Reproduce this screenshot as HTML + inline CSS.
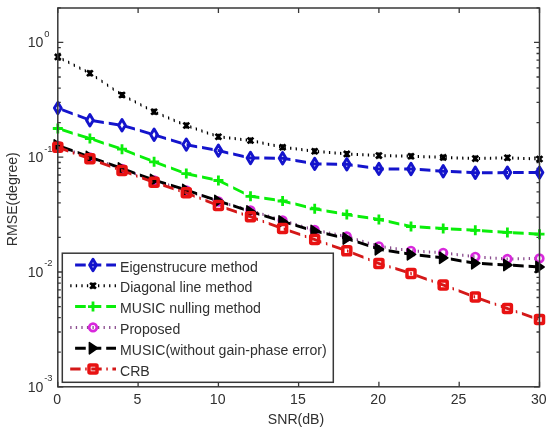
<!DOCTYPE html><html><head><meta charset="utf-8"><style>html,body{margin:0;padding:0;background:#fff;}svg{display:block;}text{font-family:"Liberation Sans",Arial,sans-serif;fill:#303030;}</style></head><body>
<svg width="550" height="436" viewBox="0 0 550 436">
<rect width="550" height="436" fill="#fff"/>
<path d="M57.8,386.8V381.8M57.8,8.0V13.0M138.1,386.8V381.8M138.1,8.0V13.0M218.4,386.8V381.8M218.4,8.0V13.0M298.6,386.8V381.8M298.6,8.0V13.0M378.9,386.8V381.8M378.9,8.0V13.0M459.2,386.8V381.8M459.2,8.0V13.0M539.5,386.8V381.8M539.5,8.0V13.0M57.8,386.8H63.3M539.5,386.8H534.0M57.8,352.2H60.8M539.5,352.2H536.5M57.8,332.0H60.8M539.5,332.0H536.5M57.8,317.7H60.8M539.5,317.7H536.5M57.8,306.6H60.8M539.5,306.6H536.5M57.8,297.5H60.8M539.5,297.5H536.5M57.8,289.8H60.8M539.5,289.8H536.5M57.8,283.1H60.8M539.5,283.1H536.5M57.8,277.3H60.8M539.5,277.3H536.5M57.8,272.0H63.3M539.5,272.0H534.0M57.8,237.4H60.8M539.5,237.4H536.5M57.8,217.2H60.8M539.5,217.2H536.5M57.8,202.9H60.8M539.5,202.9H536.5M57.8,191.8H60.8M539.5,191.8H536.5M57.8,182.7H60.8M539.5,182.7H536.5M57.8,175.0H60.8M539.5,175.0H536.5M57.8,168.3H60.8M539.5,168.3H536.5M57.8,162.5H60.8M539.5,162.5H536.5M57.8,157.2H63.3M539.5,157.2H534.0M57.8,122.6H60.8M539.5,122.6H536.5M57.8,102.4H60.8M539.5,102.4H536.5M57.8,88.1H60.8M539.5,88.1H536.5M57.8,77.0H60.8M539.5,77.0H536.5M57.8,67.9H60.8M539.5,67.9H536.5M57.8,60.2H60.8M539.5,60.2H536.5M57.8,53.5H60.8M539.5,53.5H536.5M57.8,47.7H60.8M539.5,47.7H536.5M57.8,42.4H63.3M539.5,42.4H534.0M57.8,7.8H60.8M539.5,7.8H536.5" stroke="#383838" stroke-width="1.3" fill="none"/>
<path d="M62.10,108.22L72.75,112.23L72.75,115.23L62.10,111.22ZM77.65,114.08L88.30,118.09L88.30,121.09L77.65,117.08ZM93.20,119.22L103.85,120.91L103.85,123.91L93.20,122.22ZM108.75,121.69L119.40,123.38L119.40,126.38L108.75,124.69ZM124.30,124.47L134.95,127.62L134.95,130.62L124.30,127.47ZM139.85,129.07L150.50,132.22L150.50,135.22L139.85,132.07ZM155.40,133.68L166.05,136.93L166.05,139.93L155.40,136.68ZM170.95,138.43L181.60,141.68L181.60,144.68L170.95,141.43ZM186.50,143.15L197.15,145.14L197.15,148.14L186.50,146.15ZM202.05,146.05L212.70,148.04L212.70,151.04L202.05,149.05ZM217.60,148.96L218.37,149.10L228.25,151.38L228.25,154.38L218.37,152.10L217.60,151.96ZM233.15,152.51L243.80,154.96L243.80,157.96L233.15,155.51ZM248.70,156.09L250.48,156.50L259.35,156.56L259.35,159.56L250.48,159.50L248.70,159.09ZM264.25,156.59L274.90,156.65L274.90,159.65L264.25,159.59ZM279.80,156.68L282.59,156.70L290.45,158.09L290.45,161.09L282.59,159.70L279.80,159.68ZM295.35,158.96L306.00,160.85L306.00,163.85L295.35,161.96ZM310.90,161.72L314.71,162.40L321.55,162.49L321.55,165.49L314.71,165.40L310.90,164.72ZM326.45,162.55L337.10,162.68L337.10,165.68L326.45,165.55ZM342.00,162.74L346.82,162.80L352.65,163.64L352.65,166.64L346.82,165.80L342.00,165.74ZM357.55,164.34L368.20,165.86L368.20,168.86L357.55,167.34ZM373.10,166.56L378.93,167.40L383.75,167.41L383.75,170.41L378.93,170.40L373.10,169.56ZM388.65,167.43L399.30,167.46L399.30,170.46L388.65,170.43ZM404.20,167.48L411.05,167.50L414.85,167.76L414.85,170.76L411.05,170.50L404.20,170.48ZM419.75,168.10L430.40,168.83L430.40,171.83L419.75,171.10ZM435.30,169.16L443.16,169.70L445.95,169.84L445.95,172.84L443.16,172.70L435.30,172.16ZM450.85,170.08L461.50,170.61L461.50,173.61L450.85,173.08ZM466.40,170.86L475.27,171.30L477.05,171.29L477.05,174.29L475.27,174.30L466.40,173.86ZM481.95,171.26L492.60,171.19L492.60,174.19L481.95,174.26ZM497.50,171.16L507.39,171.10L508.15,171.10L508.15,174.10L507.39,174.10L497.50,174.16ZM513.05,171.10L523.70,171.10L523.70,174.10L513.05,174.10ZM528.60,171.10L539.25,171.10L539.25,174.10L528.60,174.10Z" fill="#1414cc"/>
<path d="M57.8,102.4 L61.2,108.1 L57.8,113.8 L54.4,108.1Z" fill="none" stroke="#1414cc" stroke-width="2.9" stroke-linejoin="round"/>
<path d="M89.9,114.5 L93.3,120.2 L89.9,125.9 L86.5,120.2Z" fill="none" stroke="#1414cc" stroke-width="2.9" stroke-linejoin="round"/>
<path d="M122.0,119.6 L125.4,125.3 L122.0,131.0 L118.6,125.3Z" fill="none" stroke="#1414cc" stroke-width="2.9" stroke-linejoin="round"/>
<path d="M154.1,129.1 L157.5,134.8 L154.1,140.5 L150.7,134.8Z" fill="none" stroke="#1414cc" stroke-width="2.9" stroke-linejoin="round"/>
<path d="M186.3,138.9 L189.7,144.6 L186.3,150.3 L182.9,144.6Z" fill="none" stroke="#1414cc" stroke-width="2.9" stroke-linejoin="round"/>
<path d="M218.4,144.9 L221.8,150.6 L218.4,156.3 L215.0,150.6Z" fill="none" stroke="#1414cc" stroke-width="2.9" stroke-linejoin="round"/>
<path d="M250.5,152.3 L253.9,158.0 L250.5,163.7 L247.1,158.0Z" fill="none" stroke="#1414cc" stroke-width="2.9" stroke-linejoin="round"/>
<path d="M282.6,152.5 L286.0,158.2 L282.6,163.9 L279.2,158.2Z" fill="none" stroke="#1414cc" stroke-width="2.9" stroke-linejoin="round"/>
<path d="M314.7,158.2 L318.1,163.9 L314.7,169.6 L311.3,163.9Z" fill="none" stroke="#1414cc" stroke-width="2.9" stroke-linejoin="round"/>
<path d="M346.8,158.6 L350.2,164.3 L346.8,170.0 L343.4,164.3Z" fill="none" stroke="#1414cc" stroke-width="2.9" stroke-linejoin="round"/>
<path d="M378.9,163.2 L382.3,168.9 L378.9,174.6 L375.5,168.9Z" fill="none" stroke="#1414cc" stroke-width="2.9" stroke-linejoin="round"/>
<path d="M411.0,163.3 L414.4,169.0 L411.0,174.7 L407.6,169.0Z" fill="none" stroke="#1414cc" stroke-width="2.9" stroke-linejoin="round"/>
<path d="M443.2,165.5 L446.6,171.2 L443.2,176.9 L439.8,171.2Z" fill="none" stroke="#1414cc" stroke-width="2.9" stroke-linejoin="round"/>
<path d="M475.3,167.1 L478.7,172.8 L475.3,178.5 L471.9,172.8Z" fill="none" stroke="#1414cc" stroke-width="2.9" stroke-linejoin="round"/>
<path d="M507.4,166.9 L510.8,172.6 L507.4,178.3 L504.0,172.6Z" fill="none" stroke="#1414cc" stroke-width="2.9" stroke-linejoin="round"/>
<path d="M539.5,166.9 L542.9,172.6 L539.5,178.3 L536.1,172.6Z" fill="none" stroke="#1414cc" stroke-width="2.9" stroke-linejoin="round"/>
<path d="M57.80,55.40L58.28,55.64L58.28,58.64L57.80,58.40ZM62.53,57.80L63.83,58.46L63.83,61.46L62.53,60.80ZM68.08,60.62L69.38,61.28L69.38,64.28L68.08,63.62ZM73.63,63.43L74.93,64.09L74.93,67.09L73.63,66.43ZM79.18,66.25L80.48,66.91L80.48,69.91L79.18,69.25ZM84.73,69.07L86.03,69.73L86.03,72.73L84.73,72.07ZM90.28,71.95L91.58,72.83L91.58,75.83L90.28,74.95ZM95.83,75.72L97.13,76.60L97.13,79.60L95.83,78.72ZM101.38,79.48L102.68,80.37L102.68,83.37L101.38,82.48ZM106.93,83.25L108.23,84.13L108.23,87.13L106.93,86.25ZM112.48,87.02L113.78,87.90L113.78,90.90L112.48,90.02ZM118.03,90.79L119.33,91.67L119.33,94.67L118.03,93.79ZM123.58,94.31L124.88,94.99L124.88,97.99L123.58,97.31ZM129.13,97.22L130.43,97.90L130.43,100.90L129.13,100.22ZM134.68,100.12L135.98,100.80L135.98,103.80L134.68,103.12ZM140.23,103.02L141.53,103.70L141.53,106.70L140.23,106.02ZM145.78,105.93L147.08,106.61L147.08,109.61L145.78,108.93ZM151.33,108.83L152.63,109.51L152.63,112.51L151.33,111.83ZM156.88,111.47L158.18,112.02L158.18,115.02L156.88,114.47ZM162.43,113.84L163.73,114.39L163.73,117.39L162.43,116.84ZM167.98,116.20L169.28,116.76L169.28,119.76L167.98,119.20ZM173.53,118.57L174.83,119.13L174.83,122.13L173.53,121.57ZM179.08,120.94L180.38,121.49L180.38,124.49L179.08,123.94ZM184.63,123.31L185.93,123.86L185.93,126.86L184.63,126.31ZM190.18,125.37L191.48,125.82L191.48,128.82L190.18,128.37ZM195.73,127.31L197.03,127.76L197.03,130.76L195.73,130.31ZM201.28,129.24L202.58,129.69L202.58,132.69L201.28,132.24ZM206.83,131.18L208.13,131.63L208.13,134.63L206.83,134.18ZM212.38,133.11L213.68,133.57L213.68,136.57L212.38,136.11ZM217.93,135.05L218.37,135.20L219.23,135.30L219.23,138.30L218.37,138.20L217.93,138.05ZM223.48,135.81L224.78,135.96L224.78,138.96L223.48,138.81ZM229.03,136.46L230.33,136.62L230.33,139.62L229.03,139.46ZM234.58,137.12L235.88,137.27L235.88,140.27L234.58,140.12ZM240.13,137.78L241.43,137.93L241.43,140.93L240.13,140.78ZM245.68,138.43L246.98,138.59L246.98,141.59L245.68,141.43ZM251.23,139.16L252.53,139.43L252.53,142.43L251.23,142.16ZM256.78,140.31L258.08,140.59L258.08,143.59L256.78,143.31ZM262.33,141.47L263.63,141.74L263.63,144.74L262.33,144.47ZM267.88,142.63L269.18,142.90L269.18,145.90L267.88,145.63ZM273.43,143.79L274.73,144.06L274.73,147.06L273.43,146.79ZM278.98,144.95L280.28,145.22L280.28,148.22L278.98,147.95ZM284.53,145.95L285.83,146.11L285.83,149.11L284.53,148.95ZM290.08,146.66L291.38,146.82L291.38,149.82L290.08,149.66ZM295.63,147.36L296.93,147.53L296.93,150.53L295.63,150.36ZM301.18,148.07L302.48,148.24L302.48,151.24L301.18,151.07ZM306.73,148.78L308.03,148.95L308.03,151.95L306.73,151.78ZM312.28,149.49L313.58,149.66L313.58,152.66L312.28,152.49ZM317.83,150.05L319.13,150.16L319.13,153.16L317.83,153.05ZM323.38,150.50L324.68,150.61L324.68,153.61L323.38,153.50ZM328.93,150.95L330.23,151.06L330.23,154.06L328.93,153.95ZM334.48,151.40L335.78,151.51L335.78,154.51L334.48,154.40ZM340.03,151.85L341.33,151.96L341.33,154.96L340.03,154.85ZM345.58,152.30L346.82,152.40L346.88,152.40L346.88,155.40L346.82,155.40L345.58,155.30ZM351.13,152.63L352.43,152.70L352.43,155.70L351.13,155.63ZM356.68,152.92L357.98,152.99L357.98,155.99L356.68,155.92ZM362.23,153.22L363.53,153.28L363.53,156.28L362.23,156.22ZM367.78,153.51L369.08,153.58L369.08,156.58L367.78,156.51ZM373.33,153.80L374.63,153.87L374.63,156.87L373.33,156.80ZM378.88,154.10L378.93,154.10L380.18,154.12L380.18,157.12L378.93,157.10L378.88,157.10ZM384.43,154.20L385.73,154.23L385.73,157.23L384.43,157.20ZM389.98,154.31L391.28,154.33L391.28,157.33L389.98,157.31ZM395.53,154.41L396.83,154.43L396.83,157.43L395.53,157.41ZM401.08,154.51L402.38,154.54L402.38,157.54L401.08,157.51ZM406.63,154.62L407.93,154.64L407.93,157.64L406.63,157.62ZM412.18,154.74L413.48,154.79L413.48,157.79L412.18,157.74ZM417.73,154.95L419.03,155.00L419.03,158.00L417.73,157.95ZM423.28,155.16L424.58,155.21L424.58,158.21L423.28,158.16ZM428.83,155.36L430.13,155.41L430.13,158.41L428.83,158.36ZM434.38,155.57L435.68,155.62L435.68,158.62L434.38,158.57ZM439.93,155.78L441.23,155.83L441.23,158.83L439.93,158.78ZM445.48,155.99L446.78,156.04L446.78,159.04L445.48,158.99ZM451.03,156.19L452.33,156.24L452.33,159.24L451.03,159.19ZM456.58,156.40L457.88,156.45L457.88,159.45L456.58,159.40ZM462.13,156.61L463.43,156.66L463.43,159.66L462.13,159.61ZM467.68,156.82L468.98,156.86L468.98,159.86L467.68,159.82ZM473.23,157.02L474.53,157.07L474.53,160.07L473.23,160.02ZM478.78,157.01L480.08,156.98L480.08,159.98L478.78,160.01ZM484.33,156.87L485.63,156.84L485.63,159.84L484.33,159.87ZM489.88,156.74L491.18,156.70L491.18,159.70L489.88,159.74ZM495.43,156.60L496.73,156.57L496.73,159.57L495.43,159.60ZM500.98,156.46L502.28,156.43L502.28,159.43L500.98,159.46ZM506.53,156.32L507.39,156.30L507.83,156.32L507.83,159.32L507.39,159.30L506.53,159.32ZM512.08,156.48L513.38,156.52L513.38,159.52L512.08,159.48ZM517.63,156.68L518.93,156.73L518.93,159.73L517.63,159.68ZM523.18,156.89L524.48,156.94L524.48,159.94L523.18,159.89ZM528.73,157.10L530.03,157.15L530.03,160.15L528.73,160.10ZM534.28,157.30L535.58,157.35L535.58,160.35L534.28,160.30Z" fill="#000"/>
<path d="M54.9,54.0L60.7,59.8M54.9,59.8L60.7,54.0M57.8,53.9V59.9" stroke="#000" stroke-width="2.6" fill="none"/>
<path d="M87.0,70.3L92.8,76.1M87.0,76.1L92.8,70.3M89.9,70.2V76.2" stroke="#000" stroke-width="2.6" fill="none"/>
<path d="M119.1,92.1L124.9,97.9M119.1,97.9L124.9,92.1M122.0,92.0V98.0" stroke="#000" stroke-width="2.6" fill="none"/>
<path d="M151.2,108.9L157.0,114.7M151.2,114.7L157.0,108.9M154.1,108.8V114.8" stroke="#000" stroke-width="2.6" fill="none"/>
<path d="M183.4,122.6L189.2,128.4M183.4,128.4L189.2,122.6M186.3,122.5V128.5" stroke="#000" stroke-width="2.6" fill="none"/>
<path d="M215.5,133.8L221.3,139.6M215.5,139.6L221.3,133.8M218.4,133.7V139.7" stroke="#000" stroke-width="2.6" fill="none"/>
<path d="M247.6,137.6L253.4,143.4M247.6,143.4L253.4,137.6M250.5,137.5V143.5" stroke="#000" stroke-width="2.6" fill="none"/>
<path d="M279.7,144.3L285.5,150.1M279.7,150.1L285.5,144.3M282.6,144.2V150.2" stroke="#000" stroke-width="2.6" fill="none"/>
<path d="M311.8,148.4L317.6,154.2M311.8,154.2L317.6,148.4M314.7,148.3V154.3" stroke="#000" stroke-width="2.6" fill="none"/>
<path d="M343.9,151.0L349.7,156.8M343.9,156.8L349.7,151.0M346.8,150.9V156.9" stroke="#000" stroke-width="2.6" fill="none"/>
<path d="M376.0,152.7L381.8,158.5M376.0,158.5L381.8,152.7M378.9,152.6V158.6" stroke="#000" stroke-width="2.6" fill="none"/>
<path d="M408.1,153.3L413.9,159.1M408.1,159.1L413.9,153.3M411.0,153.2V159.2" stroke="#000" stroke-width="2.6" fill="none"/>
<path d="M440.3,154.5L446.1,160.3M440.3,160.3L446.1,154.5M443.2,154.4V160.4" stroke="#000" stroke-width="2.6" fill="none"/>
<path d="M472.4,155.7L478.2,161.5M472.4,161.5L478.2,155.7M475.3,155.6V161.6" stroke="#000" stroke-width="2.6" fill="none"/>
<path d="M504.5,154.9L510.3,160.7M504.5,160.7L510.3,154.9M507.4,154.8V160.8" stroke="#000" stroke-width="2.6" fill="none"/>
<path d="M536.6,156.1L542.4,161.9M536.6,161.9L542.4,156.1M539.5,156.0V162.0" stroke="#000" stroke-width="2.6" fill="none"/>
<path d="M62.10,128.34L72.75,131.66L72.75,134.66L62.10,131.34ZM77.65,133.18L88.30,136.50L88.30,139.50L77.65,136.18ZM93.20,138.10L103.85,141.64L103.85,144.64L93.20,141.10ZM108.75,143.28L119.40,146.82L119.40,149.82L108.75,146.28ZM124.30,148.59L134.95,152.77L134.95,155.77L124.30,151.59ZM139.85,154.69L150.50,158.87L150.50,161.87L139.85,157.69ZM155.40,160.76L166.05,164.68L166.05,167.68L155.40,163.76ZM170.95,166.48L181.60,170.39L181.60,173.39L170.95,169.48ZM186.50,172.15L197.15,174.44L197.15,177.44L186.50,175.15ZM202.05,175.49L212.70,177.78L212.70,180.78L202.05,178.49ZM217.60,178.84L218.37,179.00L228.25,183.86L228.25,186.86L218.37,182.00L217.60,181.84ZM233.15,186.27L243.80,191.51L243.80,194.51L233.15,189.27ZM248.70,193.92L250.48,194.80L259.35,196.10L259.35,199.10L250.48,197.80L248.70,196.92ZM264.25,196.82L274.90,198.37L274.90,201.37L264.25,199.82ZM279.80,199.09L282.59,199.50L290.45,201.41L290.45,204.41L282.59,202.50L279.80,202.09ZM295.35,202.60L306.00,205.19L306.00,208.19L295.35,205.60ZM310.90,206.38L314.71,207.30L321.55,208.51L321.55,211.51L314.71,210.30L310.90,209.38ZM326.45,209.38L337.10,211.27L337.10,214.27L326.45,212.38ZM342.00,212.14L346.82,213.00L352.65,213.91L352.65,216.91L346.82,216.00L342.00,215.14ZM357.55,214.67L368.20,216.33L368.20,219.33L357.55,217.67ZM373.10,217.09L378.93,218.00L383.75,219.05L383.75,222.05L378.93,221.00L373.10,220.09ZM388.65,220.12L399.30,222.44L399.30,225.44L388.65,223.12ZM404.20,223.51L411.05,225.00L414.85,225.24L414.85,228.24L411.05,228.00L404.20,226.51ZM419.75,225.54L430.40,226.21L430.40,229.21L419.75,228.54ZM435.30,226.51L443.16,227.00L445.95,227.16L445.95,230.16L443.16,230.00L435.30,229.51ZM450.85,227.43L461.50,228.03L461.50,231.03L450.85,230.43ZM466.40,228.30L475.27,228.80L477.05,228.92L477.05,231.92L475.27,231.80L466.40,231.30ZM481.95,229.24L492.60,229.93L492.60,232.93L481.95,232.24ZM497.50,230.25L507.39,230.90L508.15,230.94L508.15,233.94L507.39,233.90L497.50,233.25ZM513.05,231.22L523.70,231.81L523.70,234.81L513.05,234.22ZM528.60,232.09L539.25,232.69L539.25,235.69L528.60,235.09Z" fill="#0aee0a"/>
<path d="M57.8,123.5V133.5M52.8,128.5H62.8" stroke="#0aee0a" stroke-width="2.8" fill="none"/>
<path d="M89.9,133.5V143.5M84.9,138.5H94.9" stroke="#0aee0a" stroke-width="2.8" fill="none"/>
<path d="M122.0,144.2V154.2M117.0,149.2H127.0" stroke="#0aee0a" stroke-width="2.8" fill="none"/>
<path d="M154.1,156.8V166.8M149.1,161.8H159.1" stroke="#0aee0a" stroke-width="2.8" fill="none"/>
<path d="M186.3,168.6V178.6M181.3,173.6H191.3" stroke="#0aee0a" stroke-width="2.8" fill="none"/>
<path d="M218.4,175.5V185.5M213.4,180.5H223.4" stroke="#0aee0a" stroke-width="2.8" fill="none"/>
<path d="M250.5,191.3V201.3M245.5,196.3H255.5" stroke="#0aee0a" stroke-width="2.8" fill="none"/>
<path d="M282.6,196.0V206.0M277.6,201.0H287.6" stroke="#0aee0a" stroke-width="2.8" fill="none"/>
<path d="M314.7,203.8V213.8M309.7,208.8H319.7" stroke="#0aee0a" stroke-width="2.8" fill="none"/>
<path d="M346.8,209.5V219.5M341.8,214.5H351.8" stroke="#0aee0a" stroke-width="2.8" fill="none"/>
<path d="M378.9,214.5V224.5M373.9,219.5H383.9" stroke="#0aee0a" stroke-width="2.8" fill="none"/>
<path d="M411.0,221.5V231.5M406.0,226.5H416.0" stroke="#0aee0a" stroke-width="2.8" fill="none"/>
<path d="M443.2,223.5V233.5M438.2,228.5H448.2" stroke="#0aee0a" stroke-width="2.8" fill="none"/>
<path d="M475.3,225.3V235.3M470.3,230.3H480.3" stroke="#0aee0a" stroke-width="2.8" fill="none"/>
<path d="M507.4,227.4V237.4M502.4,232.4H512.4" stroke="#0aee0a" stroke-width="2.8" fill="none"/>
<path d="M539.5,229.2V239.2M534.5,234.2H544.5" stroke="#0aee0a" stroke-width="2.8" fill="none"/>
<path d="M57.80,144.50L58.28,144.67L58.28,147.67L57.80,147.50ZM62.53,146.19L63.83,146.66L63.83,149.66L62.53,149.19ZM68.08,148.18L69.38,148.65L69.38,151.65L68.08,151.18ZM73.63,150.17L74.93,150.63L74.93,153.63L73.63,153.17ZM79.18,152.16L80.48,152.62L80.48,155.62L79.18,155.16ZM84.73,154.14L86.03,154.61L86.03,157.61L84.73,157.14ZM90.28,156.13L91.58,156.60L91.58,159.60L90.28,159.13ZM95.83,158.12L97.13,158.58L97.13,161.58L95.83,161.12ZM101.38,160.11L102.68,160.57L102.68,163.57L101.38,163.11ZM106.93,162.09L108.23,162.56L108.23,165.56L106.93,165.09ZM112.48,164.08L113.78,164.55L113.78,167.55L112.48,167.08ZM118.03,166.07L119.33,166.53L119.33,169.53L118.03,169.07ZM123.58,168.06L124.88,168.52L124.88,171.52L123.58,171.06ZM129.13,170.04L130.43,170.51L130.43,173.51L129.13,173.04ZM134.68,172.03L135.98,172.50L135.98,175.50L134.68,175.03ZM140.23,174.02L141.53,174.48L141.53,177.48L140.23,177.02ZM145.78,176.01L147.08,176.47L147.08,179.47L145.78,179.01ZM151.33,177.99L152.63,178.46L152.63,181.46L151.33,180.99ZM156.88,179.85L158.18,180.26L158.18,183.26L156.88,182.85ZM162.43,181.58L163.73,181.99L163.73,184.99L162.43,184.58ZM167.98,183.31L169.28,183.71L169.28,186.71L167.98,186.31ZM173.53,185.04L174.83,185.44L174.83,188.44L173.53,188.04ZM179.08,186.77L180.38,187.17L180.38,190.17L179.08,189.77ZM184.63,188.49L185.93,188.90L185.93,191.90L184.63,191.49ZM190.18,190.35L191.48,190.79L191.48,193.79L190.18,193.35ZM195.73,192.25L197.03,192.69L197.03,195.69L195.73,195.25ZM201.28,194.15L202.58,194.59L202.58,197.59L201.28,197.15ZM206.83,196.05L208.13,196.49L208.13,199.49L206.83,199.05ZM212.38,197.95L213.68,198.39L213.68,201.39L212.38,200.95ZM217.93,199.85L218.37,200.00L219.23,200.24L219.23,203.24L218.37,203.00L217.93,202.85ZM223.48,201.43L224.78,201.80L224.78,204.80L223.48,204.43ZM229.03,202.99L230.33,203.35L230.33,206.35L229.03,205.99ZM234.58,204.54L235.88,204.91L235.88,207.91L234.58,207.54ZM240.13,206.10L241.43,206.46L241.43,209.46L240.13,209.10ZM245.68,207.65L246.98,208.02L246.98,211.02L245.68,210.65ZM251.23,209.23L252.53,209.64L252.53,212.64L251.23,212.23ZM256.78,210.96L258.08,211.37L258.08,214.37L256.78,213.96ZM262.33,212.69L263.63,213.09L263.63,216.09L262.33,215.69ZM267.88,214.42L269.18,214.82L269.18,217.82L267.88,217.42ZM273.43,216.15L274.73,216.55L274.73,219.55L273.43,219.15ZM278.98,217.87L280.28,218.28L280.28,221.28L278.98,220.87ZM284.53,219.57L285.83,219.96L285.83,222.96L284.53,222.57ZM290.08,221.21L291.38,221.60L291.38,224.60L290.08,224.21ZM295.63,222.86L296.93,223.24L296.93,226.24L295.63,225.86ZM301.18,224.50L302.48,224.88L302.48,227.88L301.18,227.50ZM306.73,226.14L308.03,226.52L308.03,229.52L306.73,229.14ZM312.28,227.78L313.58,228.17L313.58,231.17L312.28,230.78ZM317.83,229.13L319.13,229.40L319.13,232.40L317.83,232.13ZM323.38,230.26L324.68,230.52L324.68,233.52L323.38,233.26ZM328.93,231.38L330.23,231.64L330.23,234.64L328.93,234.38ZM334.48,232.50L335.78,232.77L335.78,235.77L334.48,235.50ZM340.03,233.63L341.33,233.89L341.33,236.89L340.03,236.63ZM345.58,234.75L346.82,235.00L346.88,235.02L346.88,238.02L346.82,238.00L345.58,237.75ZM351.13,236.32L352.43,236.71L352.43,239.71L351.13,239.32ZM356.68,238.01L357.98,238.41L357.98,241.41L356.68,241.01ZM362.23,239.70L363.53,240.10L363.53,243.10L362.23,242.70ZM367.78,241.40L369.08,241.79L369.08,244.79L367.78,244.40ZM373.33,243.09L374.63,243.49L374.63,246.49L373.33,246.09ZM378.88,244.78L378.93,244.80L380.18,244.97L380.18,247.97L378.93,247.80L378.88,247.78ZM384.43,245.57L385.73,245.75L385.73,248.75L384.43,248.57ZM389.98,246.35L391.28,246.53L391.28,249.53L389.98,249.35ZM395.53,247.13L396.83,247.31L396.83,250.31L395.53,250.13ZM401.08,247.90L402.38,248.09L402.38,251.09L401.08,250.90ZM406.63,248.68L407.93,248.86L407.93,251.86L406.63,251.68ZM412.18,249.37L413.48,249.45L413.48,252.45L412.18,252.37ZM417.73,249.72L419.03,249.80L419.03,252.80L417.73,252.72ZM423.28,250.06L424.58,250.14L424.58,253.14L423.28,253.06ZM428.83,250.41L430.13,250.49L430.13,253.49L428.83,253.41ZM434.38,250.75L435.68,250.83L435.68,253.83L434.38,253.75ZM439.93,251.10L441.23,251.18L441.23,254.18L439.93,254.10ZM445.48,251.59L446.78,251.75L446.78,254.75L445.48,254.59ZM451.03,252.28L452.33,252.44L452.33,255.44L451.03,255.28ZM456.58,252.97L457.88,253.13L457.88,256.13L456.58,255.97ZM462.13,253.66L463.43,253.82L463.43,256.82L462.13,256.66ZM467.68,254.35L468.98,254.52L468.98,257.52L467.68,257.35ZM473.23,255.05L474.53,255.21L474.53,258.21L473.23,258.05ZM478.78,255.54L480.08,255.63L480.08,258.63L478.78,258.54ZM484.33,255.92L485.63,256.01L485.63,259.01L484.33,258.92ZM489.88,256.30L491.18,256.39L491.18,259.39L489.88,259.30ZM495.43,256.68L496.73,256.77L496.73,259.77L495.43,259.68ZM500.98,257.06L502.28,257.15L502.28,260.15L500.98,260.06ZM506.53,257.44L507.39,257.50L507.83,257.49L507.83,260.49L507.39,260.50L506.53,260.44ZM512.08,257.41L513.38,257.39L513.38,260.39L512.08,260.41ZM517.63,257.31L518.93,257.28L518.93,260.28L517.63,260.31ZM523.18,257.20L524.48,257.18L524.48,260.18L523.18,260.20ZM528.73,257.10L530.03,257.08L530.03,260.08L528.73,260.10ZM534.28,257.00L535.58,256.97L535.58,259.97L534.28,260.00Z" fill="#8a4c8e"/>
<circle cx="57.8" cy="146.0" r="3.8" fill="none" stroke="#d828dc" stroke-width="2.7"/>
<circle cx="89.9" cy="157.5" r="3.8" fill="none" stroke="#d828dc" stroke-width="2.7"/>
<circle cx="122.0" cy="169.0" r="3.8" fill="none" stroke="#d828dc" stroke-width="2.7"/>
<circle cx="154.1" cy="180.5" r="3.8" fill="none" stroke="#d828dc" stroke-width="2.7"/>
<circle cx="186.3" cy="190.5" r="3.8" fill="none" stroke="#d828dc" stroke-width="2.7"/>
<circle cx="218.4" cy="201.5" r="3.8" fill="none" stroke="#d828dc" stroke-width="2.7"/>
<circle cx="250.5" cy="210.5" r="3.8" fill="none" stroke="#d828dc" stroke-width="2.7"/>
<circle cx="282.6" cy="220.5" r="3.8" fill="none" stroke="#d828dc" stroke-width="2.7"/>
<circle cx="314.7" cy="230.0" r="3.8" fill="none" stroke="#d828dc" stroke-width="2.7"/>
<circle cx="346.8" cy="236.5" r="3.8" fill="none" stroke="#d828dc" stroke-width="2.7"/>
<circle cx="378.9" cy="246.3" r="3.8" fill="none" stroke="#d828dc" stroke-width="2.7"/>
<circle cx="411.0" cy="250.8" r="3.8" fill="none" stroke="#d828dc" stroke-width="2.7"/>
<circle cx="443.2" cy="252.8" r="3.8" fill="none" stroke="#d828dc" stroke-width="2.7"/>
<circle cx="475.3" cy="256.8" r="3.8" fill="none" stroke="#d828dc" stroke-width="2.7"/>
<circle cx="507.4" cy="259.0" r="3.8" fill="none" stroke="#d828dc" stroke-width="2.7"/>
<circle cx="539.5" cy="258.4" r="3.8" fill="none" stroke="#d828dc" stroke-width="2.7"/>
<path d="M62.10,145.54L72.75,149.35L72.75,152.35L62.10,148.54ZM77.65,151.11L88.30,154.92L88.30,157.92L77.65,154.11ZM93.20,156.68L103.85,160.49L103.85,163.49L93.20,159.68ZM108.75,162.25L119.40,166.06L119.40,169.06L108.75,165.25ZM124.30,167.81L134.95,171.63L134.95,174.63L124.30,170.81ZM139.85,173.38L150.50,177.20L150.50,180.20L139.85,176.38ZM155.40,178.89L166.05,182.21L166.05,185.21L155.40,181.89ZM170.95,183.73L181.60,187.05L181.60,190.05L170.95,186.73ZM186.50,188.58L197.15,192.23L197.15,195.23L186.50,191.58ZM202.05,193.91L212.70,197.56L212.70,200.56L202.05,196.91ZM217.60,199.24L218.37,199.50L228.25,202.73L228.25,205.73L218.37,202.50L217.60,202.24ZM233.15,204.33L243.80,207.82L243.80,210.82L233.15,207.33ZM248.70,209.42L250.48,210.00L259.35,212.76L259.35,215.76L250.48,213.00L248.70,212.42ZM264.25,214.29L274.90,217.60L274.90,220.60L264.25,217.29ZM279.80,219.13L282.59,220.00L290.45,222.32L290.45,225.32L282.59,223.00L279.80,222.13ZM295.35,223.77L306.00,226.92L306.00,229.92L295.35,226.77ZM310.90,228.37L314.71,229.50L321.55,231.10L321.55,234.10L314.71,232.50L310.90,231.37ZM326.45,232.24L337.10,234.73L337.10,237.73L326.45,235.24ZM342.00,235.87L346.82,237.00L352.65,238.94L352.65,241.94L346.82,240.00L342.00,238.87ZM357.55,240.58L368.20,244.12L368.20,247.12L357.55,243.58ZM373.10,245.76L378.93,247.70L383.75,248.46L383.75,251.46L378.93,250.70L373.10,248.76ZM388.65,249.24L399.30,250.93L399.30,253.93L388.65,252.24ZM404.20,251.71L411.05,252.80L414.85,253.21L414.85,256.21L411.05,255.80L404.20,254.71ZM419.75,253.75L430.40,254.91L430.40,257.91L419.75,256.75ZM435.30,255.44L443.16,256.30L445.95,256.77L445.95,259.77L443.16,259.30L435.30,258.44ZM450.85,257.59L461.50,259.38L461.50,262.38L450.85,260.59ZM466.40,260.21L475.27,261.70L477.05,261.80L477.05,264.80L475.27,264.70L466.40,263.21ZM481.95,262.07L492.60,262.67L492.60,265.67L481.95,265.07ZM497.50,262.95L507.39,263.50L508.15,263.55L508.15,266.55L507.39,266.50L497.50,265.95ZM513.05,263.85L523.70,264.52L523.70,267.52L513.05,266.85ZM528.60,264.82L539.25,265.48L539.25,268.48L528.60,267.82Z" fill="#000"/>
<path d="M54.2,139.9 L62.4,145.5 L54.2,151.1Z" fill="#000" stroke="#000" stroke-width="1.6" stroke-linejoin="round"/>
<path d="M86.3,151.4 L94.5,157.0 L86.3,162.6Z" fill="#000" stroke="#000" stroke-width="1.6" stroke-linejoin="round"/>
<path d="M118.4,162.9 L126.6,168.5 L118.4,174.1Z" fill="#000" stroke="#000" stroke-width="1.6" stroke-linejoin="round"/>
<path d="M150.5,174.4 L158.7,180.0 L150.5,185.6Z" fill="#000" stroke="#000" stroke-width="1.6" stroke-linejoin="round"/>
<path d="M182.7,184.4 L190.9,190.0 L182.7,195.6Z" fill="#000" stroke="#000" stroke-width="1.6" stroke-linejoin="round"/>
<path d="M214.8,195.4 L223.0,201.0 L214.8,206.6Z" fill="#000" stroke="#000" stroke-width="1.6" stroke-linejoin="round"/>
<path d="M246.9,205.9 L255.1,211.5 L246.9,217.1Z" fill="#000" stroke="#000" stroke-width="1.6" stroke-linejoin="round"/>
<path d="M279.0,215.9 L287.2,221.5 L279.0,227.1Z" fill="#000" stroke="#000" stroke-width="1.6" stroke-linejoin="round"/>
<path d="M311.1,225.4 L319.3,231.0 L311.1,236.6Z" fill="#000" stroke="#000" stroke-width="1.6" stroke-linejoin="round"/>
<path d="M343.2,232.9 L351.4,238.5 L343.2,244.1Z" fill="#000" stroke="#000" stroke-width="1.6" stroke-linejoin="round"/>
<path d="M375.3,243.6 L383.5,249.2 L375.3,254.8Z" fill="#000" stroke="#000" stroke-width="1.6" stroke-linejoin="round"/>
<path d="M407.4,248.7 L415.6,254.3 L407.4,259.9Z" fill="#000" stroke="#000" stroke-width="1.6" stroke-linejoin="round"/>
<path d="M439.6,252.2 L447.8,257.8 L439.6,263.4Z" fill="#000" stroke="#000" stroke-width="1.6" stroke-linejoin="round"/>
<path d="M471.7,257.6 L479.9,263.2 L471.7,268.8Z" fill="#000" stroke="#000" stroke-width="1.6" stroke-linejoin="round"/>
<path d="M503.8,259.4 L512.0,265.0 L503.8,270.6Z" fill="#000" stroke="#000" stroke-width="1.6" stroke-linejoin="round"/>
<path d="M535.9,261.4 L544.1,267.0 L535.9,272.6Z" fill="#000" stroke="#000" stroke-width="1.6" stroke-linejoin="round"/>
<path d="M57.80,145.80L68.10,149.49L68.10,152.49L57.80,148.80ZM72.70,151.14L74.20,151.67L74.20,154.67L72.70,154.14ZM78.80,153.32L89.20,157.04L89.20,160.04L78.80,156.32ZM93.80,158.72L95.30,159.26L95.30,162.26L93.80,161.72ZM99.90,160.94L110.30,164.73L110.30,167.73L99.90,163.94ZM114.90,166.40L116.40,166.95L116.40,169.95L114.90,169.40ZM121.00,168.63L122.03,169.00L131.40,172.44L131.40,175.44L122.03,172.00L121.00,171.63ZM136.00,174.13L137.50,174.69L137.50,177.69L136.00,177.13ZM142.10,176.38L152.50,180.20L152.50,183.20L142.10,179.38ZM157.10,181.77L158.60,182.26L158.60,185.26L157.10,184.77ZM163.20,183.76L173.60,187.16L173.60,190.16L163.20,186.76ZM178.20,188.67L179.70,189.16L179.70,192.16L178.20,191.67ZM184.30,190.66L186.25,191.30L194.70,194.67L194.70,197.67L186.25,194.30L184.30,193.66ZM199.30,196.50L200.80,197.10L200.80,200.10L199.30,199.50ZM205.40,198.93L215.80,203.08L215.80,206.08L205.40,201.93ZM220.40,204.81L221.90,205.33L221.90,208.33L220.40,207.81ZM226.50,206.94L236.90,210.56L236.90,213.56L226.50,209.94ZM241.50,212.17L243.00,212.69L243.00,215.69L241.50,215.17ZM247.60,214.30L250.48,215.30L258.00,218.04L258.00,221.04L250.48,218.30L247.60,217.30ZM262.60,219.72L264.10,220.26L264.10,223.26L262.60,222.72ZM268.70,221.94L279.10,225.73L279.10,228.73L268.70,224.94ZM283.70,227.38L285.20,227.90L285.20,230.90L283.70,230.38ZM289.80,229.49L300.20,233.09L300.20,236.09L289.80,232.49ZM304.80,234.68L306.30,235.19L306.30,238.19L304.80,237.68ZM310.90,236.78L314.71,238.10L321.30,240.40L321.30,243.40L314.71,241.10L310.90,239.78ZM325.90,242.00L327.40,242.53L327.40,245.53L325.90,245.00ZM332.00,244.13L342.40,247.76L342.40,250.76L332.00,247.13ZM347.00,249.37L348.50,249.96L348.50,252.96L347.00,252.37ZM353.10,251.76L363.50,255.84L363.50,258.84L353.10,254.76ZM368.10,257.65L369.60,258.24L369.60,261.24L368.10,260.65ZM374.20,260.04L378.93,261.90L384.60,263.68L384.60,266.68L378.93,264.90L374.20,263.04ZM389.20,265.13L390.70,265.60L390.70,268.60L389.20,268.13ZM395.30,267.05L405.70,270.32L405.70,273.32L395.30,270.05ZM410.30,271.77L411.05,272.00L411.80,272.27L411.80,275.27L411.05,275.00L410.30,274.77ZM416.40,273.92L426.80,277.64L426.80,280.64L416.40,276.92ZM431.40,279.29L432.90,279.83L432.90,282.83L431.40,282.29ZM437.50,281.47L443.16,283.50L447.90,285.29L447.90,288.29L443.16,286.50L437.50,284.47ZM452.50,287.02L454.00,287.58L454.00,290.58L452.50,290.02ZM458.60,289.32L469.00,293.24L469.00,296.24L458.60,292.32ZM473.60,294.97L475.10,295.53L475.10,298.53L473.60,297.97ZM479.70,297.19L490.10,300.91L490.10,303.91L479.70,300.19ZM494.70,302.56L496.20,303.09L496.20,306.09L494.70,305.56ZM500.80,304.74L507.39,307.10L511.20,308.41L511.20,311.41L507.39,310.10L500.80,307.74ZM515.80,309.98L517.30,310.50L517.30,313.50L515.80,312.98ZM521.90,312.07L532.30,315.63L532.30,318.63L521.90,315.07ZM536.90,317.21L538.40,317.72L538.40,320.72L536.90,320.21Z" fill="#d41818"/>
<rect x="53.8" y="143.3" width="8.0" height="8.0" rx="1.0" fill="none" stroke="#e81212" stroke-width="3.5"/>
<rect x="85.9" y="154.8" width="8.0" height="8.0" rx="1.0" fill="none" stroke="#e81212" stroke-width="3.5"/>
<rect x="118.0" y="166.5" width="8.0" height="8.0" rx="1.0" fill="none" stroke="#e81212" stroke-width="3.5"/>
<rect x="150.1" y="178.3" width="8.0" height="8.0" rx="1.0" fill="none" stroke="#e81212" stroke-width="3.5"/>
<rect x="182.3" y="188.8" width="8.0" height="8.0" rx="1.0" fill="none" stroke="#e81212" stroke-width="3.5"/>
<rect x="214.4" y="201.6" width="8.0" height="8.0" rx="1.0" fill="none" stroke="#e81212" stroke-width="3.5"/>
<rect x="246.5" y="212.8" width="8.0" height="8.0" rx="1.0" fill="none" stroke="#e81212" stroke-width="3.5"/>
<rect x="278.6" y="224.5" width="8.0" height="8.0" rx="1.0" fill="none" stroke="#e81212" stroke-width="3.5"/>
<rect x="310.7" y="235.6" width="8.0" height="8.0" rx="1.0" fill="none" stroke="#e81212" stroke-width="3.5"/>
<rect x="342.8" y="246.8" width="8.0" height="8.0" rx="1.0" fill="none" stroke="#e81212" stroke-width="3.5"/>
<rect x="374.9" y="259.4" width="8.0" height="8.0" rx="1.0" fill="none" stroke="#e81212" stroke-width="3.5"/>
<rect x="407.0" y="269.5" width="8.0" height="8.0" rx="1.0" fill="none" stroke="#e81212" stroke-width="3.5"/>
<rect x="439.2" y="281.0" width="8.0" height="8.0" rx="1.0" fill="none" stroke="#e81212" stroke-width="3.5"/>
<rect x="471.3" y="293.1" width="8.0" height="8.0" rx="1.0" fill="none" stroke="#e81212" stroke-width="3.5"/>
<rect x="503.4" y="304.6" width="8.0" height="8.0" rx="1.0" fill="none" stroke="#e81212" stroke-width="3.5"/>
<rect x="535.5" y="315.6" width="8.0" height="8.0" rx="1.0" fill="none" stroke="#e81212" stroke-width="3.5"/>
<rect x="57.8" y="8.0" width="481.7" height="378.8" fill="none" stroke="#383838" stroke-width="1.5"/>
<text transform="translate(57.1,404.2) scale(0.91,1)" font-size="15.5" text-anchor="middle">0</text>
<text transform="translate(137.4,404.2) scale(0.91,1)" font-size="15.5" text-anchor="middle">5</text>
<text transform="translate(217.7,404.2) scale(0.91,1)" font-size="15.5" text-anchor="middle">10</text>
<text transform="translate(297.9,404.2) scale(0.91,1)" font-size="15.5" text-anchor="middle">15</text>
<text transform="translate(378.2,404.2) scale(0.91,1)" font-size="15.5" text-anchor="middle">20</text>
<text transform="translate(458.5,404.2) scale(0.91,1)" font-size="15.5" text-anchor="middle">25</text>
<text transform="translate(538.8,404.2) scale(0.91,1)" font-size="15.5" text-anchor="middle">30</text>
<text transform="translate(43.4,391.8) scale(0.91,1)" font-size="15.5" text-anchor="end">10</text>
<text x="44.2" y="381.2" font-size="9.4">-3</text>
<text transform="translate(43.4,277.0) scale(0.91,1)" font-size="15.5" text-anchor="end">10</text>
<text x="44.2" y="266.4" font-size="9.4">-2</text>
<text transform="translate(43.4,162.2) scale(0.91,1)" font-size="15.5" text-anchor="end">10</text>
<text x="44.2" y="151.6" font-size="9.4">-1</text>
<text transform="translate(43.4,47.4) scale(0.91,1)" font-size="15.5" text-anchor="end">10</text>
<text x="44.2" y="36.8" font-size="9.4">0</text>
<text transform="translate(296,424.2) scale(0.91,1)" font-size="15.5" text-anchor="middle">SNR(dB)</text>
<text transform="translate(17.4,199.2) rotate(-90) scale(0.91,1)" font-size="15.5" text-anchor="middle">RMSE(degree)</text>
<rect x="62.3" y="253.2" width="271.0" height="129.1" fill="#fff" stroke="#383838" stroke-width="1.5"/>
<path d="M75.10,263.50L85.75,263.50L85.75,266.50L75.10,266.50ZM90.65,263.50L101.30,263.50L101.30,266.50L90.65,266.50ZM106.20,263.50L116.00,263.50L116.00,266.50L106.20,266.50Z" fill="#1414cc"/>
<path d="M93.0,259.3 L96.4,265.0 L93.0,270.7 L89.6,265.0Z" fill="none" stroke="#1414cc" stroke-width="2.9" stroke-linejoin="round"/>
<text transform="translate(120,271.5) scale(0.91,1)" font-size="15.5">Eigenstrucure method</text>
<path d="M70.25,284.30L71.55,284.30L71.55,287.30L70.25,287.30ZM75.80,284.30L77.10,284.30L77.10,287.30L75.80,287.30ZM81.35,284.30L82.65,284.30L82.65,287.30L81.35,287.30ZM86.90,284.30L88.20,284.30L88.20,287.30L86.90,287.30ZM92.45,284.30L93.75,284.30L93.75,287.30L92.45,287.30ZM98.00,284.30L99.30,284.30L99.30,287.30L98.00,287.30ZM103.55,284.30L104.85,284.30L104.85,287.30L103.55,287.30ZM109.10,284.30L110.40,284.30L110.40,287.30L109.10,287.30ZM114.65,284.30L115.95,284.30L115.95,287.30L114.65,287.30Z" fill="#000"/>
<path d="M90.1,282.9L95.9,288.7M90.1,288.7L95.9,282.9M93.0,282.8V288.8" stroke="#000" stroke-width="2.6" fill="none"/>
<text transform="translate(120,292.3) scale(0.91,1)" font-size="15.5">Diagonal line method</text>
<path d="M75.10,305.10L85.75,305.10L85.75,308.10L75.10,308.10ZM90.65,305.10L101.30,305.10L101.30,308.10L90.65,308.10ZM106.20,305.10L116.00,305.10L116.00,308.10L106.20,308.10Z" fill="#0aee0a"/>
<path d="M93.0,301.6V311.6M88.0,306.6H98.0" stroke="#0aee0a" stroke-width="2.8" fill="none"/>
<text transform="translate(120,313.1) scale(0.91,1)" font-size="15.5">MUSIC nulling method</text>
<path d="M70.25,325.90L71.55,325.90L71.55,328.90L70.25,328.90ZM75.80,325.90L77.10,325.90L77.10,328.90L75.80,328.90ZM81.35,325.90L82.65,325.90L82.65,328.90L81.35,328.90ZM86.90,325.90L88.20,325.90L88.20,328.90L86.90,328.90ZM92.45,325.90L93.75,325.90L93.75,328.90L92.45,328.90ZM98.00,325.90L99.30,325.90L99.30,328.90L98.00,328.90ZM103.55,325.90L104.85,325.90L104.85,328.90L103.55,328.90ZM109.10,325.90L110.40,325.90L110.40,328.90L109.10,328.90ZM114.65,325.90L115.95,325.90L115.95,328.90L114.65,328.90Z" fill="#8a4c8e"/>
<circle cx="93.0" cy="327.4" r="3.8" fill="none" stroke="#d828dc" stroke-width="2.7"/>
<text transform="translate(120,333.9) scale(0.91,1)" font-size="15.5">Proposed</text>
<path d="M75.10,346.70L85.75,346.70L85.75,349.70L75.10,349.70ZM90.65,346.70L101.30,346.70L101.30,349.70L90.65,349.70ZM106.20,346.70L116.00,346.70L116.00,349.70L106.20,349.70Z" fill="#000"/>
<path d="M89.4,342.6 L97.6,348.2 L89.4,353.8Z" fill="#000" stroke="#000" stroke-width="1.6" stroke-linejoin="round"/>
<text transform="translate(120,354.7) scale(0.91,1)" font-size="15.5">MUSIC(without gain-phase error)</text>
<path d="M70.20,367.50L80.60,367.50L80.60,370.50L70.20,370.50ZM85.20,367.50L86.70,367.50L86.70,370.50L85.20,370.50ZM91.30,367.50L101.70,367.50L101.70,370.50L91.30,370.50ZM106.30,367.50L107.80,367.50L107.80,370.50L106.30,370.50ZM112.40,367.50L116.00,367.50L116.00,370.50L112.40,370.50Z" fill="#d41818"/>
<rect x="89.0" y="365.0" width="8.0" height="8.0" rx="1.0" fill="none" stroke="#e81212" stroke-width="3.5"/>
<text transform="translate(120,375.5) scale(0.91,1)" font-size="15.5">CRB</text>
</svg></body></html>
